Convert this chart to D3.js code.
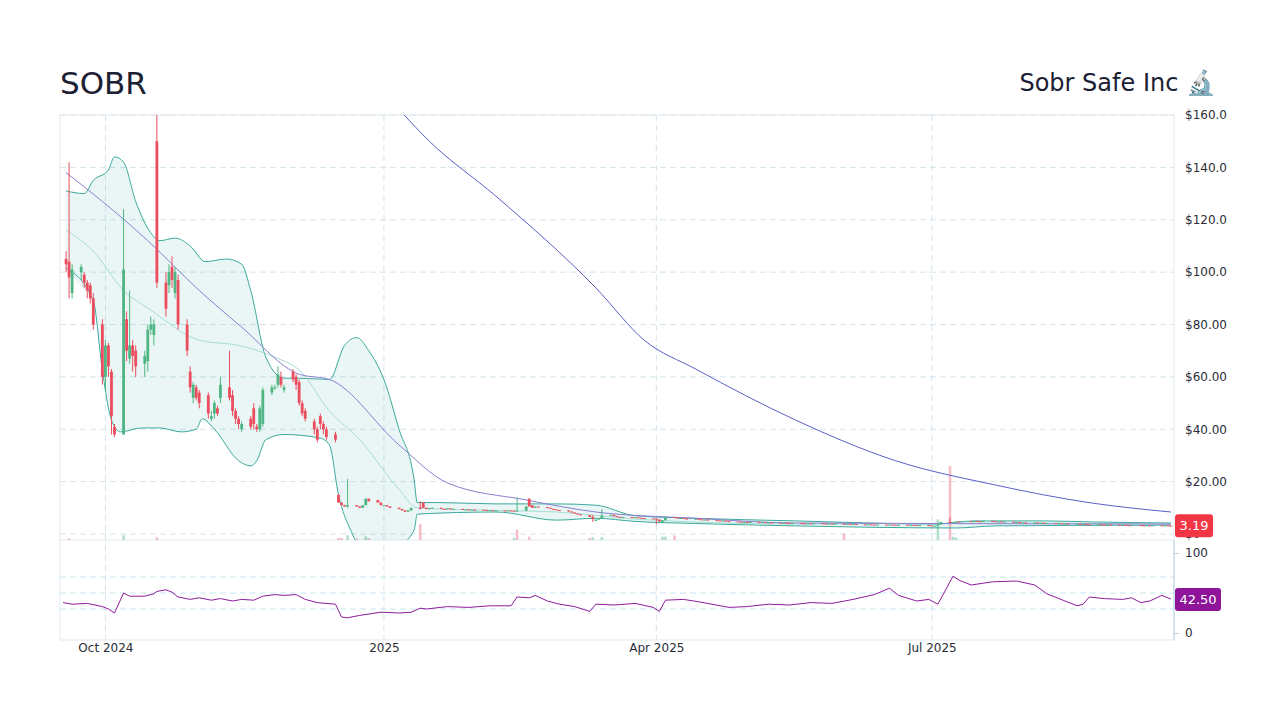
<!DOCTYPE html>
<html><head><meta charset="utf-8">
<script src="https://cdn.jsdelivr.net/npm/d3@7"></script>
<style>body{margin:0;background:#fff;font-family:"DejaVu Sans",sans-serif}</style>
</head><body><svg id="c" width="1280" height="720"></svg>
<script>
// ---------- DATA ----------
const ticker = "SOBR", company = "Sobr Safe Inc 🔬";
const startDate = "2024-09-18"; // first trading day, one candle per weekday
const opens = [105,104,92,100,99,96,95,90,80,60,72,62,41,38,82,67,72,70,65,66,78,76,150,96,95,102,92,97,80,62,52,56,54,53,44,46,48,52,56,53,47,44,40,44,48,41,40,42,54,56,57,60,55,62,60,58,50,47,43,40,45,42,40,38,
 15,12,11,10.5,11,10.5,10,11,13.5,13,12,
 11,11,10.5,10,9.5,9,8.5,9,10,12,10,9.5,9.8,10,9.6,9.4,9.8,9.5,9.6,9.3,9.4,9.2,9.3,
 9.3,9.2,9.0,9.1,8.9,9.0,8.8,9.0,8.9,8.7,8.9,13.5,11,10,10.5,10.3,10,9.6,9.4,9.2,
 9.0,8.6,8.2,7.8,7.5,7.2,6.5,5.0,5.5,6.0,7.0,7.3,6.8,6.6,6.4,6.5,6.3,6.4,6.2,6.1,6.0,
 5.9,5.5,4.5,5.2,6.5,6.3,6.0,6.1,5.9,5.7,5.8,5.6,5.4,5.5,5.3,5.2,5.0,5.1,4.9,4.8,4.7,4.6,
 4.6,4.5,4.6,4.4,4.5,4.3,4.4,4.3,4.2,4.3,4.2,4.1,4.2,4.1,4.0,4.1,4.0,4.1,4.0,3.9,4.0,3.9,
 3.9,3.8,3.9,3.7,3.8,3.7,3.6,3.7,3.6,3.5,3.6,3.5,3.6,3.5,3.4,3.5,3.4,3.5,3.4,3.3,3.4,
 3.3,3.2,3.2,3.6,4.6,4.4,4.6,4.8,4.7,4.9,4.8,5.0,4.9,4.8,5.0,4.9,4.7,4.8,4.6,4.7,4.5,4.6,4.4,
 4.4,4.3,4.4,4.2,4.3,4.1,4.2,4.0,4.1,3.9,4.0,3.8,3.9,3.7,3.8,3.7,3.6,3.7,3.6,3.5,3.6,
 3.5,3.4,3.5,3.4,3.3,3.4,3.3,3.2,3.3,3.2,3.3,3.2,3.3,3.2];
const closes = [103,98,101,102,96,93,90,80,60,72,64,45,38,101,70,72,68,64,68,78,80,80,96,86,100,97,100,80,70,56,57,52,50,46,45,50,46,57,52,47,44,42,42,41,42,40,48,55,56,56,61,57,56,59,57,50,46,44,40,36,42,40,37,36,
 12,11,10.5,11,10.5,10,11,13.5,12.5,12,11,
 11,10.5,10,9.5,9,8.5,9,10,9.5,10,9.5,9.8,10,9.6,9.4,9.8,9.5,9.6,9.3,9.4,9.2,9.3,9.2,
 9.2,9.0,9.1,8.9,9.0,8.8,9.0,8.9,8.7,8.9,10.5,10.5,10,10.5,10.3,10,9.6,9.4,9.2,9.0,
 8.6,8.2,7.8,7.5,7.2,6.5,5.8,5.5,6.0,7.0,7.3,6.8,6.6,6.4,6.5,6.3,6.4,6.2,6.1,6.0,5.9,
 5.5,4.8,5.2,6.5,6.3,6.0,6.1,5.9,5.7,5.8,5.6,5.4,5.5,5.3,5.2,5.0,5.1,4.9,4.8,4.7,4.6,4.6,
 4.5,4.6,4.4,4.5,4.3,4.4,4.3,4.2,4.3,4.2,4.1,4.2,4.1,4.0,4.1,4.0,4.1,4.0,3.9,4.0,3.9,3.9,
 3.8,3.9,3.7,3.8,3.7,3.6,3.7,3.6,3.5,3.6,3.5,3.6,3.5,3.4,3.5,3.4,3.5,3.4,3.3,3.4,3.3,
 3.2,3.2,3.6,4.6,4.4,4.6,4.8,4.7,4.9,4.8,5.0,4.9,4.8,5.0,4.9,4.7,4.8,4.6,4.7,4.5,4.6,4.4,4.4,
 4.3,4.4,4.2,4.3,4.1,4.2,4.0,4.1,3.9,4.0,3.8,3.9,3.7,3.8,3.7,3.6,3.7,3.6,3.5,3.6,3.5,
 3.4,3.5,3.4,3.3,3.4,3.3,3.2,3.3,3.2,3.3,3.2,3.3,3.2,3.19];
const highs = [108,142,103,103,100,97,96,92,82,74,73,63,42,124,85,93,74,72,70,80,83,82,160,100,103,106,102,99,82,64,58,57,55,54,47,51,49,60,70,55,48,45,43,45,50,42,49,56,57,57,64,62,57,63,61,59,51,48,44,41,46,43,41,39];
const lows  = [100,90,90,97,94,90,88,78,57,55,60,38,37,38,66,65,62,60,60,62,76,72,94,83,92,94,90,78,68,54,50,51,48,44,43,44,45,50,51,45,42,40,39,40,40,39,39,41,53,55,56,56,54,58,55,49,45,43,38,35,40,38,36,35];
const wickDates = ["2024-12-20","2025-01-13","2025-02-14","2025-03-11","2025-03-14","2025-04-01","2025-07-07"];
const wickHigh  = [21,12.5,14,7.3,9.5,5.9,6.2];
const wickLow   = [10,9.6,10.2,4.6,6.4,3.6,4.2];
const volDates = ["2024-09-19","2024-10-07","2024-10-18","2024-12-17","2024-12-18","2024-12-20","2024-12-23","2024-12-26","2024-12-27","2025-01-13","2025-02-13","2025-02-14","2025-02-18","2025-03-10","2025-03-11","2025-03-14","2025-04-03","2025-04-04","2025-04-07","2025-06-02","2025-07-03","2025-07-07","2025-07-08","2025-07-09"];
const volValues = [0.5,1.6,0.9,0.7,0.6,1.6,0.5,1.2,0.6,5.3,0.8,3.5,1.1,0.7,1.0,1.0,1.1,1.1,1.5,2.1,7.0,25,1.1,0.9];
const volUp = [0,1,0,0,0,1,0,1,0,0,1,0,0,0,1,1,1,1,0,0,1,0,1,1];
const bbDates = ["2024-09-18","2024-09-24","2024-09-27","2024-10-02","2024-10-04","2024-10-07","2024-10-11","2024-10-16","2024-10-19","2024-10-24","2024-10-29","2024-11-03","2024-11-10","2024-11-15","2024-11-18","2024-11-23","2024-11-29","2024-12-04","2024-12-14","2024-12-19","2024-12-23","2024-12-27","2025-01-01","2025-01-06","2025-01-11","2025-01-12","2025-01-19","2025-02-07","2025-02-27","2025-03-12","2025-03-25","2025-04-14","2025-05-17","2025-07-02","2025-07-15","2025-08-07","2025-08-23","2025-09-18"];
const bbUpper = [131,130,135,139,144,142,127,115,112,113,110,104,105,103,93,67.5,59.5,59.5,59,72,75,70,59,40,20.6,12,12,11.5,11.5,11,7,6,5,3.8,5,5,4.6,4.2];
const bbLowerDates = ["2024-09-18","2024-09-27","2024-09-30","2024-10-03","2024-10-06","2024-10-13","2024-10-19","2024-10-26","2024-10-31","2024-11-02","2024-11-06","2024-11-14","2024-11-18","2024-11-20","2024-11-23","2024-11-29","2024-12-11","2024-12-14","2024-12-17","2024-12-21","2024-12-24","2025-01-06","2025-01-11","2025-01-12","2025-02-07","2025-02-27","2025-03-12","2025-03-25","2025-04-14","2025-05-17","2025-07-09","2025-07-22","2025-09-18"];
const bbLower = [101.5,89,62.5,43.5,39,40.5,40.5,39,40,44,40,28,26,28,36,38,36.6,34,15,1.5,-4,-4,1.5,7.6,8.4,5.3,6,4.8,4,3.1,2.3,3.1,3.4];
const bbMidDates = ["2024-09-18","2024-09-27","2024-10-07","2024-10-16","2024-11-01","2024-11-14","2024-11-26","2024-12-04","2024-12-14","2024-12-24","2025-01-06","2025-01-12","2025-02-07","2025-02-27","2025-03-25","2025-05-17","2025-07-22","2025-09-18"];
const bbMid = [116,108,93,85.5,74,72,67.5,62.6,47,36,17,10,9,8.4,5.7,3.8,4.2,3.8];
const sma50Dates = ["2024-09-18","2024-09-30","2024-10-15","2024-11-01","2024-11-15","2024-12-04","2024-12-14","2025-01-06","2025-01-22","2025-02-17","2025-03-12","2025-04-14","2025-05-17","2025-09-18"];
const sma50 = [138,127,112,93,79,61,59,34,19.5,13,8.4,6,4.2,3.8];
const sma200Dates = ["2025-01-03","2025-01-16","2025-02-07","2025-03-12","2025-03-28","2025-04-14","2025-05-17","2025-06-19","2025-07-22","2025-08-23","2025-09-18"];
const sma200 = [166,150,129,94,74,63,43.5,28,18.7,11.8,8.4];
const rsiDates = ["2024-09-17","2024-09-20","2024-09-25","2024-09-30","2024-10-02","2024-10-04","2024-10-07","2024-10-09","2024-10-14","2024-10-17","2024-10-18","2024-10-21","2024-10-23","2024-10-25","2024-10-29","2024-11-01","2024-11-05","2024-11-08","2024-11-12","2024-11-15","2024-11-19","2024-11-22","2024-11-26","2024-11-29","2024-12-03","2024-12-06","2024-12-10","2024-12-16","2024-12-18","2024-12-20","2024-12-24","2024-12-31","2025-01-06","2025-01-10","2025-01-13","2025-01-15","2025-01-22","2025-01-29","2025-02-05","2025-02-12","2025-02-14","2025-02-18","2025-02-20","2025-02-24","2025-02-28","2025-03-05","2025-03-10","2025-03-12","2025-03-18","2025-03-25","2025-03-31","2025-04-02","2025-04-04","2025-04-10","2025-04-15","2025-04-25","2025-05-01","2025-05-08","2025-05-15","2025-05-22","2025-05-29","2025-06-05","2025-06-12","2025-06-17","2025-06-20","2025-06-26","2025-06-30","2025-07-03","2025-07-08","2025-07-10","2025-07-14","2025-07-21","2025-07-29","2025-08-04","2025-08-08","2025-08-12","2025-08-18","2025-08-20","2025-08-22","2025-08-27","2025-09-02","2025-09-05","2025-09-08","2025-09-11","2025-09-15","2025-09-18"];
const rsiValues = [38,36,37,33,30,25,50,46,46,49,52,54,51,45,42,44,41,43,40,42,41,46,48,47,48,42,38,36,20,19,22,26,25,26,31,30,33,32,34,34,45,44,47,40,36,33,27,36,35,37,32,27,41,42,39,32,33,36,35,38,37,42,48,56,47,40,42,36,71,66,60,64,65,60,49,43,34,36,45,43,42,44,38,40,47,42.5];
const priceTicks = [0,20,40,60,80,100,120,140,160];
const priceTickLabels = ["$0","$20.00","$40.00","$60.00","$80.00","$100.0","$120.0","$140.0","$160.0"];
const monthTicks = ["2024-10-01","2025-01-01","2025-04-01","2025-07-01"];
const monthLabels = ["Oct 2024","2025","Apr 2025","Jul 2025"];
const rsiTicks = [0,100];
const rsiGrid = [30,50,70];
const lastPrice = "3.19", lastRsi = "42.50";

// ---------- BUILD ----------
const P = d3.timeParse("%Y-%m-%d");
const dates = [];
{ let d = P(startDate); while (dates.length < closes.length) { const w = d.getDay(); if (w!==0 && w!==6) dates.push(new Date(d)); d = d3.timeDay.offset(d,1); } }
const wickMap = new Map(wickDates.map((d,i)=>[d,[wickHigh[i],wickLow[i]]]));
const fmt = d3.timeFormat("%Y-%m-%d");
const candles = dates.map((d,i)=>{
  const o=opens[i], c=closes[i];
  let h = highs[i]!==undefined?highs[i]:Math.max(o,c), l = lows[i]!==undefined?lows[i]:Math.min(o,c);
  const w = wickMap.get(fmt(d)); if (w){h=Math.max(h,w[0]); l=Math.min(l,w[1]);}
  return {d,o,c,h,l};
});

const L=60,R=1174,PT=115,PB=540,RT=540,RB=640;
const svg = d3.select("#c");
const x = d3.scaleTime().domain([P("2024-09-16"),P("2025-09-19")]).range([L,R]);
const y = d3.scaleLinear().domain([0,160]).range([534,115]);
const yv = d3.scaleLinear().domain([0,25]).range([540,466]);
const yr = d3.scaleLinear().domain([0,100]).range([633,553]);
const grid="#d3e4ec";

svg.append("text").attr("x",60).attr("y",94).attr("font-size",31).attr("fill","#1c2033").text(ticker);
svg.append("text").attr("x",1216).attr("y",91).attr("text-anchor","end").attr("font-size",24).attr("fill","#1c2033").text(company);

const defs = svg.append("defs");
defs.append("clipPath").attr("id","pc").append("rect").attr("x",L).attr("y",PT).attr("width",R-L).attr("height",PB-PT);
defs.append("clipPath").attr("id","rc").append("rect").attr("x",L).attr("y",RT).attr("width",R-L).attr("height",RB-RT);

const g = svg.append("g");
g.selectAll(".hg").data(priceTicks).join("line").attr("x1",L).attr("x2",R).attr("y1",d=>y(d)).attr("y2",d=>y(d)).attr("stroke",grid).attr("stroke-dasharray","6,4");
g.selectAll(".rg").data(rsiGrid).join("line").attr("x1",L).attr("x2",R).attr("y1",d=>yr(d)).attr("y2",d=>yr(d)).attr("stroke","#c8e6f3").attr("stroke-dasharray","6,4");
g.selectAll(".vg").data(monthTicks).join("line").attr("x1",d=>x(P(d))).attr("x2",d=>x(P(d))).attr("y1",PT).attr("y2",RB).attr("stroke",grid).attr("stroke-dasharray","6,4");
g.append("rect").attr("x",L).attr("y",PT).attr("width",R-L).attr("height",RB-PT).attr("fill","none").attr("stroke","#e3e9ee");
g.append("line").attr("x1",L).attr("x2",R).attr("y1",PB).attr("y2",PB).attr("stroke","#e3e9ee");
g.append("line").attr("x1",R).attr("x2",R).attr("y1",RT).attr("y2",RB).attr("stroke","#b9d3dc");

const pc = svg.append("g").attr("clip-path","url(#pc)");
pc.selectAll(".v").data(volDates.map((d,i)=>({d:P(d),v:volValues[i],u:volUp[i]}))).join("rect")
  .attr("x",d=>x(d.d)-1.3).attr("width",2.6).attr("y",d=>yv(d.v)).attr("height",d=>540-yv(d.v))
  .attr("fill",d=>d.u?"rgba(83,185,135,0.45)":"rgba(240,110,130,0.45)");
const upperI = d3.scaleTime().domain(bbDates.map(P)).range(bbUpper);
const lowerPts = bbLowerDates.map((d,i)=>[P(d),bbLower[i]]);
const upperPts = bbDates.map((d,i)=>[P(d),bbUpper[i]]);
const lowerI = d3.scaleTime().domain(bbLowerDates.map(P)).range(bbLower);
const allD = Array.from(new Set([...bbDates,...bbLowerDates])).sort().map(P);
const ln = d3.line().x(d=>x(d[0])).y(d=>y(d[1])).curve(d3.curveMonotoneX);
pc.append("path").datum(allD).attr("d",d3.area().x(d=>x(d)).y0(d=>y(lowerI(d))).y1(d=>y(upperI(d))).curve(d3.curveMonotoneX)).attr("fill","rgba(38,166,154,0.1)");
pc.append("path").datum(upperPts).attr("d",ln).attr("fill","none").attr("stroke","#3aa99a").attr("stroke-width",1);
pc.append("path").datum(lowerPts).attr("d",ln).attr("fill","none").attr("stroke","#3aa99a").attr("stroke-width",1);
pc.append("path").datum(bbMidDates.map((d,i)=>[P(d),bbMid[i]])).attr("d",ln).attr("fill","none").attr("stroke","#a8ddd3").attr("stroke-width",1);
pc.append("path").datum(sma50Dates.map((d,i)=>[P(d),sma50[i]])).attr("d",ln).attr("fill","none").attr("stroke","#8b7fd3").attr("stroke-width",1);
pc.append("path").datum(sma200Dates.map((d,i)=>[P(d),sma200[i]])).attr("d",ln).attr("fill","none").attr("stroke","#5a5fc8").attr("stroke-width",1);
const up="#4fb583", dn="#ec4d5e";
const cg = pc.selectAll(".cd").data(candles).join("g");
cg.append("line").attr("x1",d=>x(d.d)).attr("x2",d=>x(d.d)).attr("y1",d=>y(d.h)).attr("y2",d=>y(d.l)).attr("stroke",d=>d.c>=d.o?up:dn).attr("stroke-width",1);
cg.append("rect").attr("x",d=>x(d.d)-1.4).attr("width",2.8).attr("y",d=>y(Math.max(d.o,d.c))).attr("height",d=>Math.max(1,Math.abs(y(d.o)-y(d.c)))).attr("fill",d=>d.c>=d.o?up:dn);

const rc = svg.append("g").attr("clip-path","url(#rc)");
rc.append("path").datum(rsiDates.map((d,i)=>[P(d),rsiValues[i]])).attr("d",d3.line().x(d=>x(d[0])).y(d=>yr(d[1]))).attr("fill","none").attr("stroke","#8e1a9c").attr("stroke-width",1);

const ax = svg.append("g").attr("transform",`translate(${R},0)`).call(d3.axisRight(y).tickValues(priceTicks).tickSize(0).tickPadding(11).tickFormat((d,i)=>priceTickLabels[i]));
const ar = svg.append("g").attr("transform",`translate(${R},0)`).call(d3.axisRight(yr).tickValues(rsiTicks).tickSize(5).tickPadding(6));
const xb = svg.append("g").attr("transform",`translate(0,${RB})`).call(d3.axisBottom(x).tickValues(monthTicks.map(P)).tickSize(0).tickPadding(3).tickFormat((d,i)=>monthLabels[i]));
[ax,ar,xb].forEach(a=>{a.select(".domain").remove(); a.selectAll("text").attr("font-size",12).attr("fill","#2a2e39").attr("font-family","DejaVu Sans");});
ar.selectAll("line").attr("stroke","#b9d3dc");

function tag(yy,txt,col){
  const w = txt.length*8+6;
  svg.append("rect").attr("x",R+1).attr("y",yy-11).attr("width",w).attr("height",23).attr("rx",3).attr("fill",col);
  svg.append("text").attr("x",R+1+w/2).attr("y",yy+5).attr("text-anchor","middle").attr("font-size",13).attr("fill","#fff").text(txt);
}
tag(y(+lastPrice)-0.5,lastPrice,"#f23645");
tag(yr(+lastRsi),lastRsi,"#8e1599");
</script></body></html>
